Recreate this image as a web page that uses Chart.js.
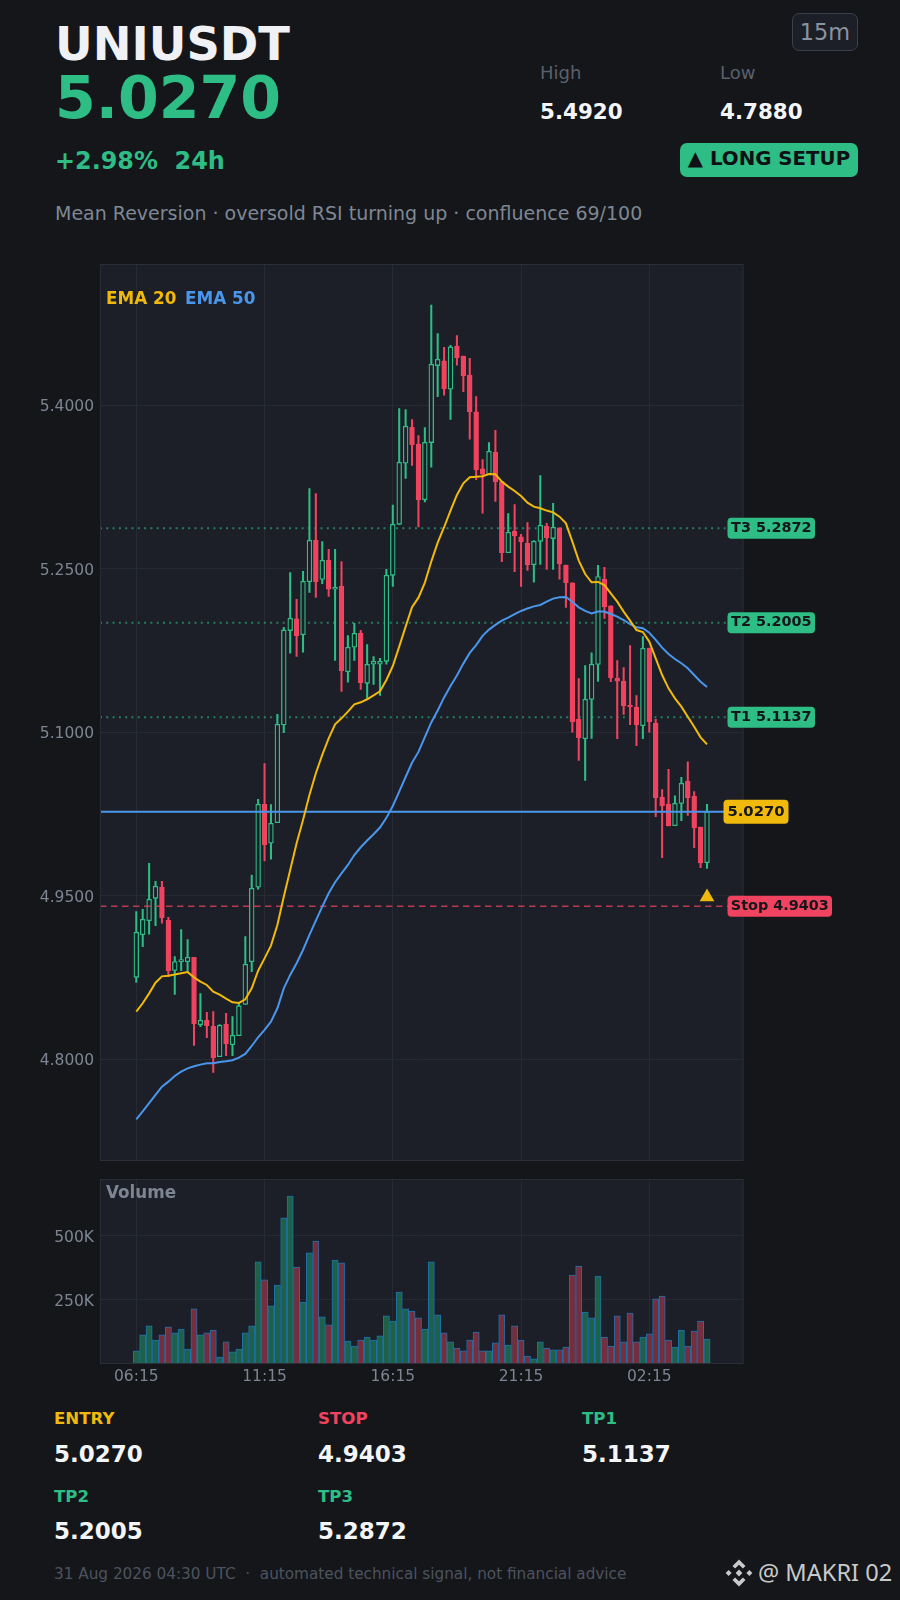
<!DOCTYPE html>
<html>
<head>
<meta charset="utf-8">
<script src="https://cdn.jsdelivr.net/npm/chart.js@4/dist/chart.umd.min.js"></script>
<style>
  html, body { margin: 0; padding: 0; background: #14161a; }
  body { position: relative; width: 900px; height: 1600px; overflow: hidden; font-family: "DejaVu Sans", sans-serif; }
  .t { position: absolute; white-space: nowrap; line-height: 1; }
  canvas { position: absolute; left: 0; }
  .green { color: #2dbd85; }
  .lab { font-size: 16.6px; font-weight: 700; }
  .val { font-size: 23px; font-weight: 700; color: #f4f5f7; }
</style>
</head>
<body>
<div class="t" style="left:55px;top:21px;font-size:46.4px;font-weight:700;color:#eff1f5">UNIUSDT</div>
<div class="t green" style="left:55px;top:69px;font-size:58.6px;font-weight:700">5.0270</div>
<div class="t green" style="left:55px;top:150px;font-size:23.9px;font-weight:700;white-space:pre">+2.98%  24h</div>
<div class="t" style="left:55px;top:204px;font-size:19px;color:#7f8794">Mean Reversion · oversold RSI turning up · confluence 69/100</div>
<div class="t" style="left:540px;top:64px;font-size:18px;color:#5a606c">High</div>
<div class="t" style="left:720px;top:64px;font-size:18px;color:#5a606c">Low</div>
<div class="t" style="left:540px;top:101px;font-size:21.4px;font-weight:700;color:#f4f5f7">5.4920</div>
<div class="t" style="left:720px;top:101px;font-size:21.4px;font-weight:700;color:#f4f5f7">4.7880</div>
<div class="t" style="left:792px;top:13px;width:64px;height:36px;line-height:36px;text-align:center;background:#1c1f27;border:1px solid #3a404c;border-radius:7px;font-size:22.4px;color:#8a92a0">15m</div>
<div class="t" style="left:680px;top:143px;width:178px;height:34px;line-height:32px;text-align:center;background:#2dbd85;border-radius:7px;font-size:19.8px;font-weight:700;color:#0f1115">▲ LONG SETUP</div>

<canvas id="priceChart" style="top:264px"></canvas>
<canvas id="volumeChart" style="top:1179px"></canvas>

<div class="t lab" style="left:54px;top:1411px;color:#f0b90b">ENTRY</div>
<div class="t val" style="left:54px;top:1443px">5.0270</div>
<div class="t lab" style="left:318px;top:1411px;color:#f0435f">STOP</div>
<div class="t val" style="left:318px;top:1443px">4.9403</div>
<div class="t lab green" style="left:582px;top:1411px">TP1</div>
<div class="t val" style="left:582px;top:1443px">5.1137</div>
<div class="t lab green" style="left:54px;top:1489px">TP2</div>
<div class="t val" style="left:54px;top:1520px">5.2005</div>
<div class="t lab green" style="left:318px;top:1489px">TP3</div>
<div class="t val" style="left:318px;top:1520px">5.2872</div>

<div class="t" style="left:54px;top:1567px;font-size:15.26px;color:#4d535e;white-space:pre">31 Aug 2026 04:30 UTC  ·  automated technical signal, not financial advice</div>
<svg style="position:absolute;left:725px;top:1559px" width="28" height="28" viewBox="0 0 28 28" fill="#c9c9c9">
  <path d="M14 0.5l6.5 6.5-2.6 2.6L14 5.7 10.1 9.6 7.5 7z"/>
  <path d="M14 27.5l-6.5-6.5 2.6-2.6 3.9 3.9 3.9-3.9 2.6 2.6z"/>
  <path d="M3.6 11l3 3-3 3-3-3z"/><path d="M24.4 11l3 3-3 3-3-3z"/>
  <path d="M14 10.6l3.4 3.4-3.4 3.4-3.4-3.4z"/>
</svg>
<div class="t" style="left:758px;top:1561px;font-family:'Noto Sans',sans-serif;font-size:23.6px;color:#c9c9c9">@ MAKRI 02</div>

<script>
const timeLabels = ["06:15", "11:15", "16:15", "21:15", "02:15"];
const labelEvery = 20;

const opens = [
  4.8752, 4.9144, 4.9272, 4.9477, 4.9581, 4.9275, 4.8816, 4.8896, 4.8896, 4.8936,
  4.8318, 4.8358, 4.8303, 4.8024, 4.8321, 4.8134, 4.8217, 4.8504, 4.8896, 4.9578,
  5.0339, 4.9982, 5.0171, 5.1067, 5.1933, 5.2040, 5.1896, 5.2382, 5.2761, 5.2403,
  5.2578, 5.2312, 5.2339, 5.1556, 5.1780, 5.1911, 5.1449, 5.1624, 5.1624, 5.1651,
  5.2440, 5.2908, 5.3468, 5.3798, 5.3645, 5.3134, 5.3658, 5.4364, 5.4407, 5.4147,
  5.4544, 5.4452, 5.4278, 5.3939, 5.3416, 5.3364, 5.3569, 5.3300, 5.2648, 5.2844,
  5.2792, 5.2734, 5.2538, 5.2752, 5.2890, 5.2777, 5.2875, 5.2535, 5.2370, 5.1122,
  5.0941, 5.1302, 5.1623, 5.2406, 5.2159, 5.1498, 5.1470, 5.1238, 5.1232, 5.1061,
  5.1773, 5.1085, 5.0406, 5.0342, 5.0143, 5.0348, 5.0553, 5.0415, 5.0131, 4.9804
];
const highs = [
  4.9355, 4.9376, 4.9798, 4.9633, 4.9633, 4.9303, 4.8942, 4.9189, 4.9098, 4.8936,
  4.8602, 4.8431, 4.8437, 4.8318, 4.8422, 4.8391, 4.8514, 4.9125, 4.9691, 5.0385,
  5.0712, 5.0336, 5.1165, 5.1963, 5.2465, 5.2220, 5.2477, 5.3235, 5.3189, 5.2749,
  5.2679, 5.2679, 5.2566, 5.1887, 5.2000, 5.1936, 5.1804, 5.1694, 5.1679, 5.2495,
  5.3085, 5.3969, 5.3960, 5.3868, 5.3722, 5.3795, 5.4920, 5.4657, 5.4532, 5.4550,
  5.4639, 5.4452, 5.4431, 5.4079, 5.3501, 5.3658, 5.3771, 5.3300, 5.3006, 5.3089,
  5.2816, 5.2923, 5.2758, 5.3355, 5.2917, 5.3101, 5.2875, 5.2535, 5.2370, 5.1492,
  5.1611, 5.1730, 5.2532, 5.2513, 5.2159, 5.1657, 5.1593, 5.1795, 5.1336, 5.1877,
  5.1773, 5.1119, 5.0474, 5.0660, 5.0418, 5.0587, 5.0730, 5.0455, 5.0131, 5.0339
];
const lows = [
  4.8706, 4.9034, 4.9147, 4.9226, 4.9248, 4.8758, 4.8596, 4.8813, 4.8804, 4.8128,
  4.8300, 4.8199, 4.7880, 4.8024, 4.8034, 4.8034, 4.8217, 4.8504, 4.8804, 4.9560,
  4.9819, 4.9835, 5.0171, 5.0997, 5.1725, 5.1697, 5.1734, 5.2284, 5.2238, 5.2364,
  5.2247, 5.1660, 5.1376, 5.1459, 5.1660, 5.1394, 5.1312, 5.1440, 5.1339, 5.1624,
  5.2339, 5.2908, 5.3330, 5.3449, 5.2884, 5.3113, 5.3431, 5.4079, 5.4092, 5.3871,
  5.4367, 5.4125, 5.3688, 5.3318, 5.3009, 5.3364, 5.3119, 5.2566, 5.2648, 5.2474,
  5.2339, 5.2486, 5.2376, 5.2541, 5.2495, 5.2495, 5.2404, 5.2146, 5.1000, 5.0743,
  5.0559, 5.0944, 5.1467, 5.2045, 5.1464, 5.0941, 5.1165, 5.1070, 5.0877, 5.0941,
  5.1000, 5.0226, 4.9850, 5.0140, 5.0143, 5.0189, 5.0238, 4.9941, 4.9758, 4.9752
];
const closes = [
  4.9165, 4.9284, 4.9468, 4.9587, 4.9300, 4.8810, 4.8896, 4.8908, 4.8936, 4.8327,
  4.8358, 4.8309, 4.8015, 4.8312, 4.8144, 4.8220, 4.8492, 4.8871, 4.9569, 5.0339,
  4.9969, 5.0165, 5.1073, 5.1939, 5.2046, 5.1887, 5.2385, 5.2761, 5.2382, 5.2578,
  5.2312, 5.2330, 5.1566, 5.1780, 5.1908, 5.1455, 5.1624, 5.1651, 5.1651, 5.2440,
  5.2908, 5.3477, 5.3807, 5.3639, 5.3134, 5.3660, 5.4376, 5.4422, 5.4153, 5.4535,
  5.4437, 5.4269, 5.3942, 5.3407, 5.3367, 5.3578, 5.3300, 5.2648, 5.2835, 5.2801,
  5.2746, 5.2535, 5.2752, 5.2899, 5.2786, 5.2881, 5.2544, 5.2373, 5.1097, 5.0951,
  5.1302, 5.1623, 5.2428, 5.2149, 5.1501, 5.1470, 5.1244, 5.1232, 5.1070, 5.1770,
  5.1097, 5.0400, 5.0324, 5.0140, 5.0348, 5.0532, 5.0400, 5.0122, 4.9801, 5.0270
];
const ema20 = [
  4.8437, 4.8514, 4.8605, 4.8703, 4.8761, 4.8767, 4.8777, 4.8789, 4.8801, 4.8752,
  4.8712, 4.8682, 4.8621, 4.8593, 4.8556, 4.8523, 4.8517, 4.8550, 4.8651, 4.8813,
  4.8926, 4.9043, 4.9232, 4.9492, 4.9737, 4.9982, 5.0196, 5.0425, 5.0624, 5.0792,
  5.0945, 5.1073, 5.1128, 5.1189, 5.1257, 5.1275, 5.1303, 5.1339, 5.1376, 5.1480,
  5.1608, 5.1786, 5.1969, 5.2147, 5.2235, 5.2373, 5.2566, 5.2740, 5.2881, 5.3033,
  5.3177, 5.3284, 5.3339, 5.3345, 5.3349, 5.3370, 5.3367, 5.3300, 5.3254, 5.3214,
  5.3168, 5.3107, 5.3070, 5.3055, 5.3034, 5.3018, 5.2978, 5.2917, 5.2749, 5.2575,
  5.2452, 5.2376, 5.2379, 5.2351, 5.2275, 5.2198, 5.2107, 5.2024, 5.1938, 5.1920,
  5.1831, 5.1678, 5.1525, 5.1403, 5.1311, 5.1235, 5.1143, 5.1051, 5.0954, 5.0889
];
const ema50 = [
  4.7449, 4.7522, 4.7598, 4.7673, 4.7749, 4.7795, 4.7847, 4.7887, 4.7917, 4.7936,
  4.7951, 4.7963, 4.7963, 4.7975, 4.7982, 4.7991, 4.8015, 4.8049, 4.8122, 4.8202,
  4.8269, 4.8345, 4.8468, 4.8651, 4.8774, 4.8881, 4.9003, 4.9141, 4.9272, 4.9400,
  4.9523, 4.9624, 4.9706, 4.9783, 4.9874, 4.9945, 5.0007, 5.0065, 5.0126, 5.0215,
  5.0324, 5.0455, 5.0590, 5.0720, 5.0820, 5.0955, 5.1090, 5.1200, 5.1320, 5.1425,
  5.1521, 5.1630, 5.1728, 5.1800, 5.1885, 5.1942, 5.1985, 5.2025, 5.2052, 5.2085,
  5.2113, 5.2135, 5.2155, 5.2168, 5.2198, 5.2226, 5.2238, 5.2241, 5.2198, 5.2146,
  5.2113, 5.2091, 5.2107, 5.2107, 5.2085, 5.2061, 5.2030, 5.1993, 5.1963, 5.1954,
  5.1914, 5.1847, 5.1776, 5.1718, 5.1672, 5.1633, 5.1587, 5.1525, 5.1464, 5.1415
];
const volumes = [
  52, 114, 149, 94, 114, 145, 122, 137, 59, 215,
  114, 122, 133, 28, 87, 48, 59, 122, 149, 398,
  328, 227, 308, 569, 654, 378, 242, 433, 479, 184,
  153, 405, 394, 90, 71, 94, 106, 94, 110, 188,
  168, 281, 215, 207, 180, 137, 398, 192, 122, 87,
  63, 52, 94, 125, 52, 52, 83, 192, 75, 149,
  94, 32, 21, 87, 63, 56, 56, 67, 347, 382,
  203, 180, 343, 106, 71, 188, 87, 199, 87, 106,
  118, 254, 265, 94, 67, 133, 71, 129, 168, 98
];

const priceTicks = [4.8, 4.95, 5.1, 5.25, 5.4];
const volumeTicks = [250, 500];
const entry = 5.027;
const stop = 4.9403;
const targets = [5.1137, 5.2005, 5.2872];
const signalMarker = 4.949;

const GREEN = "#2dbd85";
const RED = "#f0435f";
const AMBER = "#f0b90b";
const BLUE = "#4a96ec";
const PANEL = "#1c1f27";
const GRID = "#262a32";
const EDGE = "#2a2e36";
const X_MIN = -5.66;
const X_MAX = 94.69;
const FONT = '"DejaVu Sans", sans-serif';

const indexes = opens.map((_, i) => i);
const isUp = (i) => closes[i] >= opens[i];
const levelLine = (value, color, dash, width, order) => ({
  type: "line",
  data: [{ x: X_MIN, y: value }, { x: X_MAX, y: value }],
  borderColor: color,
  borderDash: dash,
  borderWidth: width,
  pointRadius: 0,
  order: order,
});
const emaLine = (values, color) => ({
  type: "line",
  data: indexes.map((i) => ({ x: i, y: values[i] })),
  borderColor: color,
  borderWidth: 2,
  pointRadius: 0,
  order: 1,
});

function badge(ctx, text, left, y, w, h, bg) {
  ctx.fillStyle = bg;
  ctx.beginPath();
  ctx.roundRect(left, y - h / 2, w, h, 4);
  ctx.fill();
  ctx.fillStyle = "#14161a";
  ctx.textAlign = "center";
  ctx.textBaseline = "middle";
  ctx.fillText(text, left + w / 2, y);
}

const panelPlugin = {
  id: "panel",
  beforeDraw(chart) {
    const { ctx, chartArea: a } = chart;
    ctx.save();
    ctx.fillStyle = PANEL;
    ctx.fillRect(a.left, a.top, a.right - a.left, a.bottom - a.top);
    ctx.restore();
  },
  afterDraw(chart) {
    const { ctx, chartArea: a } = chart;
    ctx.save();
    ctx.strokeStyle = EDGE;
    ctx.lineWidth = 1;
    ctx.strokeRect(a.left + 0.5, a.top + 0.5, a.right - a.left - 1, a.bottom - a.top - 1);
    ctx.restore();
  },
};

const priceLabels = {
  id: "priceLabels",
  afterDraw(chart) {
    const { ctx, chartArea: a } = chart;
    const y = chart.scales.y;
    ctx.save();
    ctx.font = "bold 16.8px " + FONT;
    ctx.textBaseline = "middle";
    ctx.textAlign = "left";
    ctx.fillStyle = AMBER;
    ctx.fillText("EMA 20", 106, a.top + 36);
    ctx.fillStyle = BLUE;
    ctx.fillText("EMA 50", 185, a.top + 36);
    ctx.font = "bold 14.4px " + FONT;
    targets.forEach((t, i) => {
      badge(ctx, "T" + (i + 1) + " " + t.toFixed(4), 727.5, y.getPixelForValue(t), 87.5, 21, GREEN);
    });
    badge(ctx, "Stop " + stop.toFixed(4), 727.5, y.getPixelForValue(stop), 104.5, 21, RED);
    ctx.font = "bold 14.8px " + FONT;
    badge(ctx, entry.toFixed(4), 723.5, y.getPixelForValue(entry), 65, 24, AMBER);
    ctx.restore();
  },
};

const volumeLabel = {
  id: "volumeLabel",
  afterDraw(chart) {
    const { ctx, chartArea: a } = chart;
    ctx.save();
    ctx.font = "bold 16.8px " + FONT;
    ctx.textBaseline = "middle";
    ctx.fillStyle = "#7d8592";
    ctx.fillText("Volume", 106, a.top + 15);
    ctx.restore();
  },
};

const flatPad = (width) => (scale) => {
  if (width !== undefined) scale.width = width;
  scale.paddingTop = 0;
  scale.paddingBottom = 0;
  scale.paddingLeft = 0;
  scale.paddingRight = 0;
};

function setSize(id, h) {
  const c = document.getElementById(id);
  c.width = 900;
  c.height = h;
  c.style.width = "900px";
  c.style.height = h + "px";
  return c;
}

new Chart(setSize("priceChart", 897), {
  type: "bar",
  data: {
    datasets: [
      levelLine(targets[0], "rgba(45,189,133,0.6)", [2, 4.3], 2, 6),
      levelLine(targets[1], "rgba(45,189,133,0.6)", [2, 4.3], 2, 6),
      levelLine(targets[2], "rgba(45,189,133,0.6)", [2, 4.3], 2, 6),
      {
        data: indexes.map((i) => ({ x: i, y: [lows[i], highs[i]] })),
        backgroundColor: indexes.map((i) => (isUp(i) ? GREEN : RED)),
        barThickness: 1.4,
        grouped: false,
        order: 5,
      },
      {
        data: indexes.map((i) => ({ x: i, y: [opens[i], closes[i]] })),
        backgroundColor: indexes.map((i) => (isUp(i) ? PANEL : RED)),
        borderColor: indexes.map((i) => (isUp(i) ? GREEN : RED)),
        borderWidth: 1.3,
        borderSkipped: false,
        barThickness: 4.8,
        minBarLength: 2,
        grouped: false,
        order: 4,
      },
      levelLine(entry, BLUE, [], 2, 2),
      levelLine(stop, "rgba(240,67,95,0.75)", [6.5, 4.5], 1.5, 2),
      emaLine(ema20, AMBER),
      emaLine(ema50, BLUE),
      {
        type: "scatter",
        data: [{ x: 89, y: signalMarker }],
        pointStyle: "triangle",
        pointRadius: 8.5,
        backgroundColor: AMBER,
        borderColor: AMBER,
        borderWidth: 0,
        order: 0,
      },
    ],
  },
  options: {
    responsive: false,
    animation: false,
    events: [],
    devicePixelRatio: 1,
    layout: { autoPadding: false, padding: { left: 0, right: 156.5, top: 0, bottom: 0 } },
    plugins: { legend: { display: false }, tooltip: { enabled: false } },
    scales: {
      x: {
        type: "linear",
        offset: false,
        min: X_MIN,
        max: X_MAX,
        grid: { color: GRID, drawTicks: false, offset: false },
        border: { display: false },
        ticks: { display: false },
        afterBuildTicks: (s) => { s.ticks = timeLabels.map((_, i) => ({ value: i * labelEvery })); },
        afterFit: (s) => { s.height = 0; flatPad()(s); },
      },
      y: {
        min: 4.7067,
        max: 5.5296,
        grid: { color: GRID, drawTicks: false },
        border: { display: false },
        afterBuildTicks: (s) => { s.ticks = priceTicks.map((v) => ({ value: v })); },
        afterFit: flatPad(100),
        ticks: {
          color: "#7d8592",
          padding: 6,
          labelOffset: 2,
          font: { family: FONT, size: 15.5 },
          callback: (v) => v.toFixed(4),
        },
      },
    },
  },
  plugins: [panelPlugin, priceLabels],
});

new Chart(setSize("volumeChart", 210), {
  type: "bar",
  data: {
    datasets: [
      {
        data: indexes.map((i) => ({ x: i, y: volumes[i] })),
        backgroundColor: indexes.map((i) => (isUp(i) ? "#1f6049" : "#762d3c")),
        borderColor: "#1c72b0",
        borderWidth: 1,
        barThickness: 6.2,
      },
    ],
  },
  options: {
    responsive: false,
    animation: false,
    events: [],
    devicePixelRatio: 1,
    layout: { autoPadding: false, padding: { left: 0, right: 156.5, top: 0, bottom: 0 } },
    plugins: { legend: { display: false }, tooltip: { enabled: false } },
    scales: {
      x: {
        type: "linear",
        offset: false,
        min: X_MIN,
        max: X_MAX,
        grid: { color: GRID, drawTicks: false, offset: false },
        border: { display: false },
        afterBuildTicks: (s) => { s.ticks = timeLabels.map((_, i) => ({ value: i * labelEvery })); },
        afterFit: (s) => { s.height = 25; flatPad()(s); },
        ticks: {
          color: "#7d8592",
          padding: 4,
          autoSkip: false,
          maxRotation: 0,
          font: { family: FONT, size: 15.5 },
          callback: (v) => timeLabels[v / labelEvery],
        },
      },
      y: {
        min: 1,
        max: 720,
        grid: { color: GRID, drawTicks: false },
        border: { display: false },
        afterBuildTicks: (s) => { s.ticks = volumeTicks.map((v) => ({ value: v })); },
        afterFit: flatPad(100),
        ticks: {
          color: "#7d8592",
          padding: 6,
          labelOffset: 2,
          font: { family: FONT, size: 15.5 },
          callback: (v) => v + "K",
        },
      },
    },
  },
  plugins: [panelPlugin, volumeLabel],
});
</script>
</body>
</html>
